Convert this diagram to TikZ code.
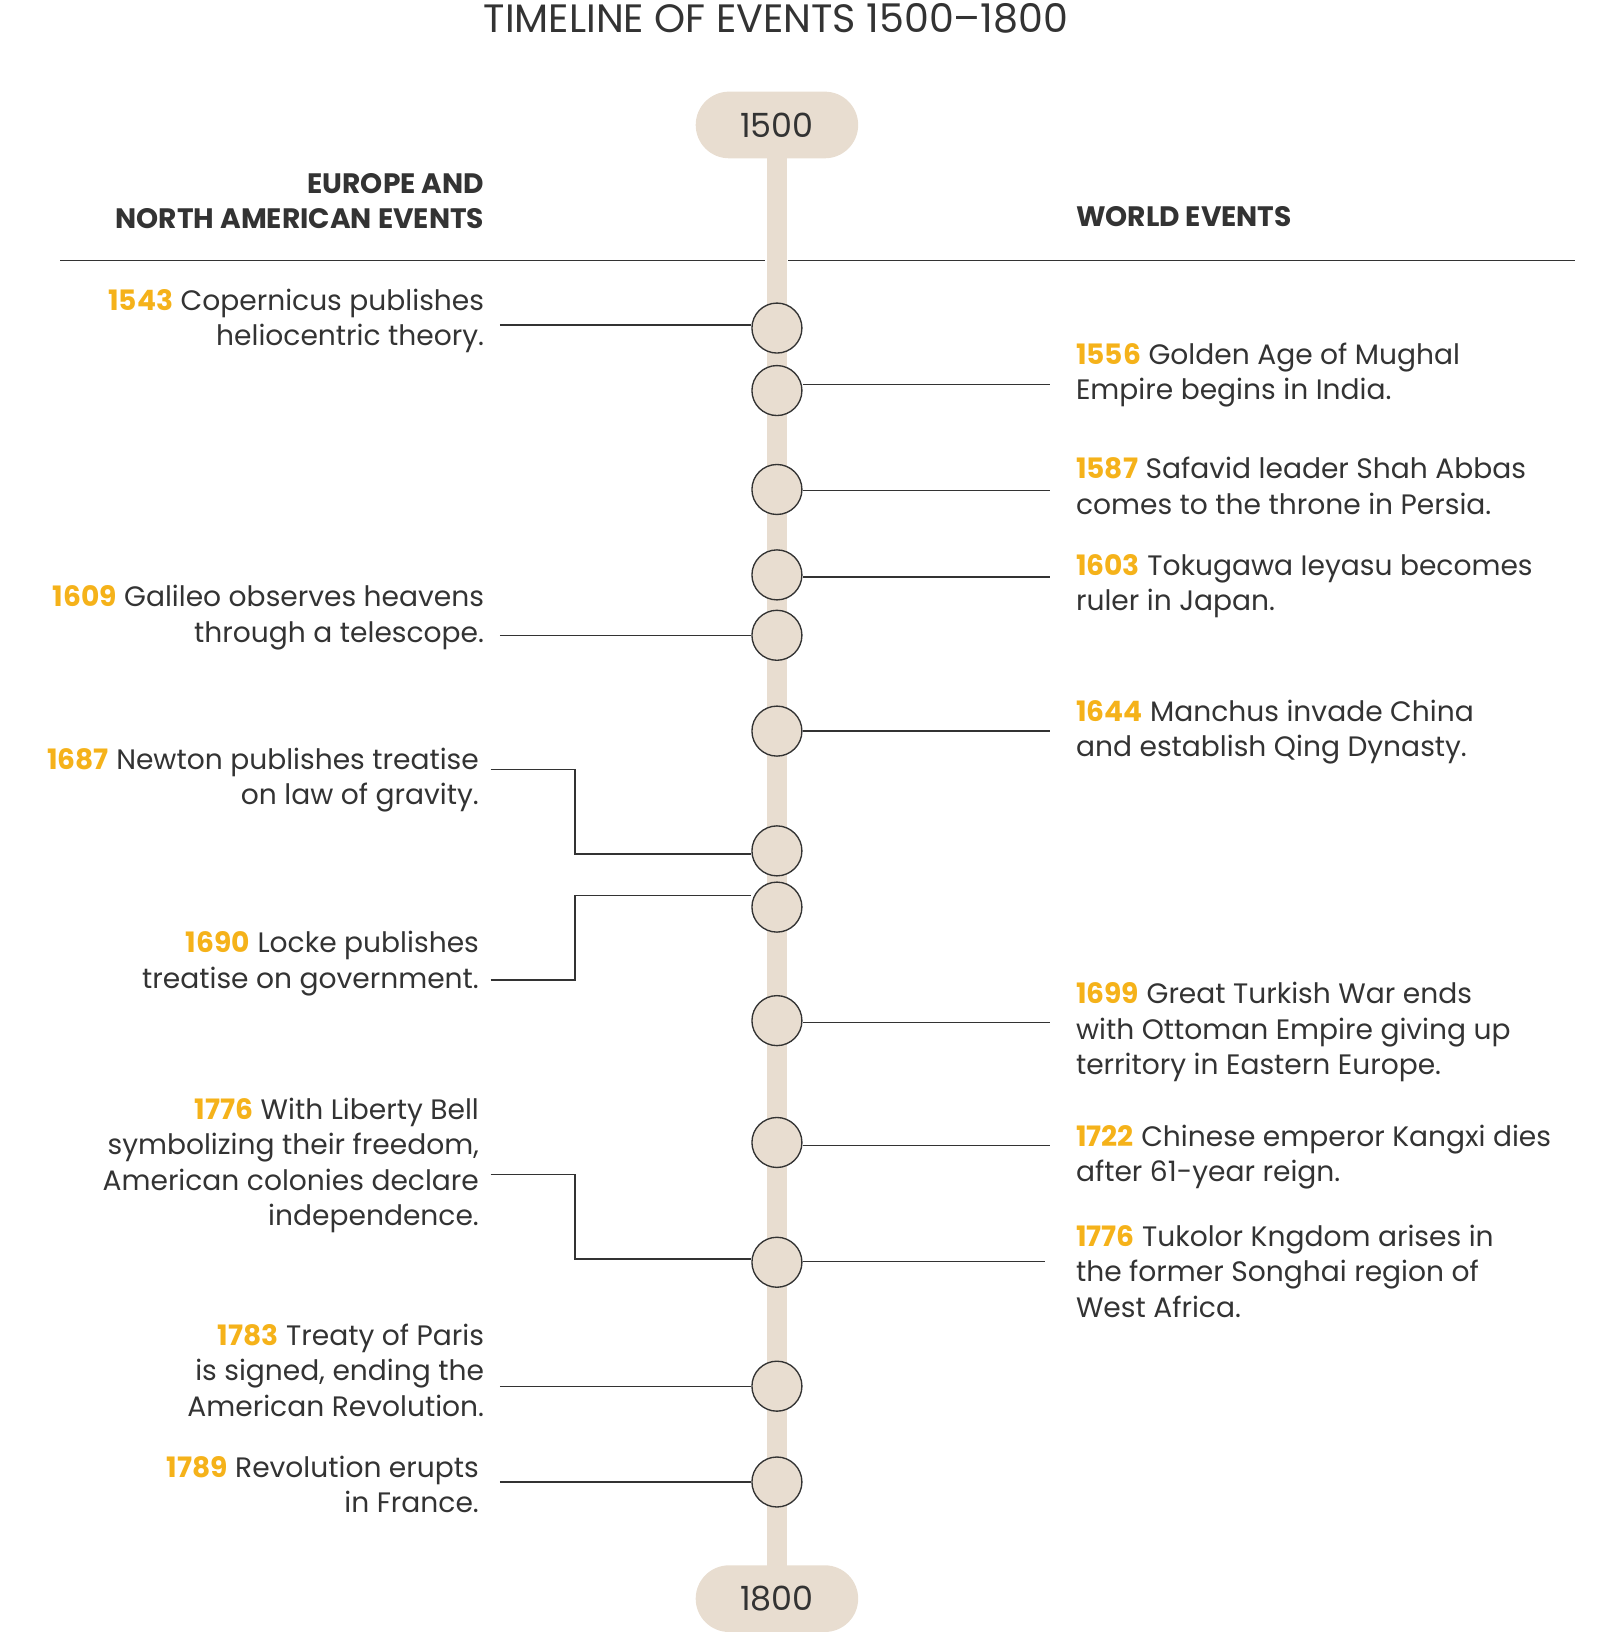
\documentclass[tikz,border=0pt]{standalone}
\usepackage{fontspec}
\setmainfont{Poppins}
\definecolor{axis}{HTML}{E8DDD0}
\definecolor{yr}{HTML}{F5B21A}
\definecolor{ln}{HTML}{333333}
\newcommand{\Y}[1]{{\color{yr}\fontseries{sb}\selectfont #1}}
\begin{document}
\begin{tikzpicture}[x=1pt,y=-1pt,
  ev/.style={font=\fontsize{27}{34}\selectfont,inner sep=0pt,text=ln},
  evl/.style={ev,anchor=north east,align=right},
  evr/.style={ev,anchor=north west,align=left},
  dot/.style={circle,draw=ln,line width=1.3pt,fill=axis,minimum size=48pt,inner sep=0pt},
  con/.style={draw=ln,line width=1.3pt},
  pill/.style={rounded corners=32pt,fill=axis,minimum width=156pt,minimum height=64pt,font=\fontsize{32}{38}\selectfont,text=ln}]
\useasboundingbox (0,0) rectangle (1536,1568);
\node[font=\fontsize{38}{44}\selectfont\fontseries{l}\selectfont,text=ln] (title) at (745,18) {TIMELINE OF EVENTS 1500–1800};
\fill[axis] (736,120) rectangle (756,1535);
\node[pill] (p1) at (746,120) {1500};
\node[pill] (p2) at (746,1535) {1800};
\draw[con] (58,250) -- (735,250);
\draw[con] (757,250) -- (1512,250);
\node[evl,font=\fontsize{27}{34}\selectfont\fontseries{sb}\selectfont] (hl) at (465,166) {EUROPE AND\\NORTH AMERICAN EVENTS};
\node[evr,font=\fontsize{27}{34}\selectfont\fontseries{sb}\selectfont] (hr) at (1033,198) {WORLD EVENTS};
\foreach \n/\y in {1/315,2/375,3/470,4/552,5/610,6/702,7/817,8/871,9/980,10/1097,11/1212,12/1331,13/1423}
  \node[dot] (c\n) at (746,\y) {};
% left
\node[evl] (t1) at (465,277) {\Y{1543} Copernicus publishes\\heliocentric theory.};
\node[evl] (t5) at (465,562) {\Y{1609} Galileo observes heavens\\through a telescope.};
\node[evl] (t7) at (460,718) {\Y{1687} Newton publishes treatise\\on law of gravity.};
\node[evl] (t8) at (460,894) {\Y{1690} Locke publishes\\treatise on government.};
\node[evl] (t11) at (460,1054) {\Y{1776} With Liberty Bell\\symbolizing their freedom,\\American colonies declare\\independence.};
\node[evl] (t12) at (465,1271) {\Y{1783} Treaty of Paris\\is signed, ending the\\American Revolution.};
\node[evl] (t13) at (460,1398) {\Y{1789} Revolution erupts\\in France.};
\coordinate (a1) at (480,312); \draw[con] (a1) -- (c1.west|-a1);
\coordinate (a5) at (480,610); \draw[con] (a5) -- (c5.west);
\coordinate (a7) at (471,739); \draw[con] (a7) -- (552,739) -- (552,820) -- (c7.west|-0,820);
\coordinate (a8) at (471,941); \draw[con] (a8) -- (552,941) -- (552,860) -- (c8.west|-0,860);
\coordinate (a11) at (471,1128); \draw[con] (a11) -- (552,1128) -- (552,1209) -- (c11.west|-0,1209);
\coordinate (a12) at (480,1331); \draw[con] (a12) -- (c12.west);
\coordinate (a13) at (480,1423); \draw[con] (a13) -- (c13.west);
% right
\node[evr] (t2) at (1033,329) {\Y{1556} Golden Age of Mughal\\Empire begins in India.};
\node[evr] (t3) at (1033,439) {\Y{1587} Safavid leader Shah Abbas\\comes to the throne in Persia.};
\node[evr] (t4) at (1033,532) {\Y{1603} Tokugawa Ieyasu becomes\\ruler in Japan.};
\node[evr] (t6) at (1033,672) {\Y{1644} Manchus invade China\\and establish Qing Dynasty.};
\node[evr] (t9) at (1033,943) {\Y{1699} Great Turkish War ends\\with Ottoman Empire giving up\\territory in Eastern Europe.};
\node[evr] (t10) at (1033,1080) {\Y{1722} Chinese emperor Kangxi dies\\after 61-year reign.};
\node[evr] (t11r) at (1033,1176) {\Y{1776} Tukolor Kngdom arises in\\the former Songhai region of\\West Africa.};
\coordinate (b2) at (1008,369); \draw[con] (c2.east|-b2) -- (b2);
\coordinate (b3) at (1008,471); \draw[con] (c3.east|-b3) -- (b3);
\coordinate (b4) at (1008,554); \draw[con] (c4.east|-b4) -- (b4);
\coordinate (b6) at (1008,702); \draw[con] (c6.east) -- (b6);
\coordinate (b9) at (1008,982); \draw[con] (c9.east|-b9) -- (b9);
\coordinate (b10) at (1008,1100); \draw[con] (c10.east|-b10) -- (b10);
\coordinate (b11) at (1003,1211); \draw[con] (c11.east|-b11) -- (b11);
\end{tikzpicture}
\end{document}
